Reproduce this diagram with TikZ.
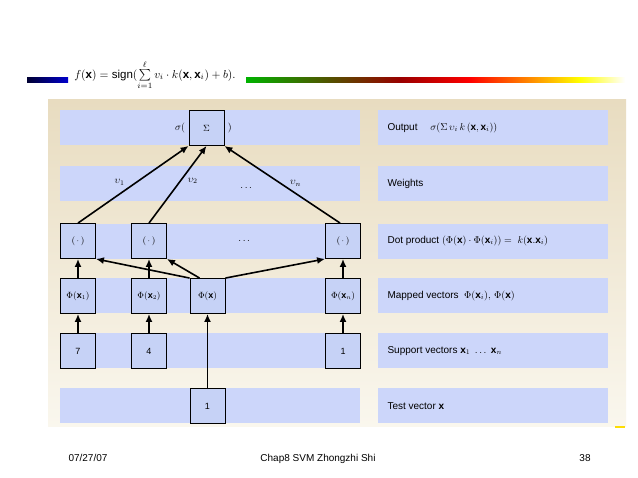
\documentclass[tikz,border=0pt]{standalone}
\usepackage{fontspec}
\setmainfont{Liberation Sans}
\usepackage{amsmath}
\usetikzlibrary{arrows.meta}
\definecolor{strip}{RGB}{204,214,250}
\definecolor{boxfill}{RGB}{198,210,246}
\definecolor{beige}{RGB}{232,220,192}
\definecolor{beigelight}{RGB}{250,247,238}
\tikzset{
  strip/.style={fill=strip,draw=none},
  unit/.style={draw=black,line width=0.9pt,fill=boxfill,minimum width=35pt,minimum height=35pt,inner sep=0pt,font=\small},
  link/.style={line width=1.6pt,-{Latex[length=8pt,width=7pt]}},
  lbl/.style={anchor=west}
}
\begin{document}
\begin{tikzpicture}[x=1pt,y=-1pt]
\useasboundingbox (0,0) rectangle (638,478);
\fill[white] (0,0) rectangle (638,478);
% header
\node[scale=1.15] at (155,75) {$f(\mathbf{x})=\mathrm{sign}(\sum\limits_{i=1}^{\ell} v_i\cdot k(\mathbf{x},\mathbf{x}_i)+b).$};
\shade[left color=black!80!blue,right color=blue!80!black] (27,78) rectangle (68,83);
\shade[left color=green!70!black,right color=red!60!black] (246,78) rectangle (400,83);
\shade[left color=red!60!black,right color=red] (400,78) rectangle (470,83);
\shade[left color=red,right color=yellow] (470,78) rectangle (580,83);
\shade[left color=yellow,right color=white] (580,78) rectangle (625,83);
% panel
\shade[top color=beige,bottom color=beigelight] (48,100) rectangle (626,427);
\fill[yellow!80!orange] (615,426) rectangle (625,428);
\foreach \y in {110,166,224,278,333,388}{
  \fill[strip] (60,\y) rectangle (360,\y+35);
  \fill[strip] (378,\y) rectangle (608,\y+35);
}
% nodes
\node[unit] (sum) at (206.5,128) {$\Sigma$};
\node[anchor=east] at (sum.west) {$\sigma($};
\node[anchor=west] at (sum.east) {$)$};
\node[unit] (dot1) at (78,241) {$(\,\cdot\,)$};
\node[unit] (dot2) at (149,241) {$(\,\cdot\,)$};
\node[unit] (dotn) at (343,241) {$(\,\cdot\,)$};
\node[unit] (map1) at (78,296) {$\Phi(\mathbf{x}_1)$};
\node[unit] (map2) at (149,296) {$\Phi(\mathbf{x}_2)$};
\node[unit] (mapx) at (207.5,296) {$\Phi(\mathbf{x})$};
\node[unit] (mapn) at (343,296) {$\Phi(\mathbf{x}_n)$};
\node[unit] (sv1) at (78,351) {7};
\node[unit] (sv2) at (149,351) {4};
\node[unit] (svn) at (343,351) {1};
\node[unit] (test) at (207.5,406) {1};
\node at (245,241) {$\dots$};
\node at (247,188) {$\dots$};
% connectors
\draw[link] (sv1) -- (map1);
\draw[link] (sv2) -- (map2);
\draw[link] (svn) -- (mapn);
\draw[link] (test) -- (mapx);
\draw[link] (map1) -- (dot1);
\draw[link] (map2) -- (dot2);
\draw[link] (mapn) -- (dotn);
\draw[link] (mapx.north west) -- (dot1.south east);
\draw[link] (mapx.north west) ++(10,0) -- (dot2.south east);
\draw[link] (mapx.north east) -- (dotn.south west);
\draw[link] (dot1.north) -- node[pos=0.45,above left=-1pt] {$\upsilon_1$} (sum.south west);
\draw[link] (dot2.north) -- node[pos=0.55,right=3pt] {$\upsilon_2$} (sum.south);
\draw[link] (dotn.north west) ++(15,0) -- node[pos=0.45,above right=-2pt] {$\upsilon_n$} (sum.south east);
% right column
\node[lbl] at (384,128) {Output \quad $\sigma(\Sigma\,\upsilon_i\,k\,(\mathbf{x},\mathbf{x}_i))$};
\node[lbl] at (384,184) {Weights};
\node[lbl] at (384,241) {Dot product $(\Phi(\mathbf{x})\cdot\Phi(\mathbf{x}_i))=\ k(\mathbf{x}.\mathbf{x}_i)$};
\node[lbl] at (384,296) {Mapped vectors \ $\Phi(\mathbf{x}_i),\,\Phi(\mathbf{x})$};
\node[lbl] at (384,351) {Support vectors $\mathbf{x}_1\ \dots\ \mathbf{x}_n$};
\node[lbl] at (384,406) {Test vector $\mathbf{x}$};
% footer
\node[anchor=base] at (88,462) {07/27/07};
\node[anchor=base] at (318,462) {Chap8 SVM Zhongzhi Shi};
\node[anchor=base] at (585,462) {38};
\end{tikzpicture}
\end{document}
